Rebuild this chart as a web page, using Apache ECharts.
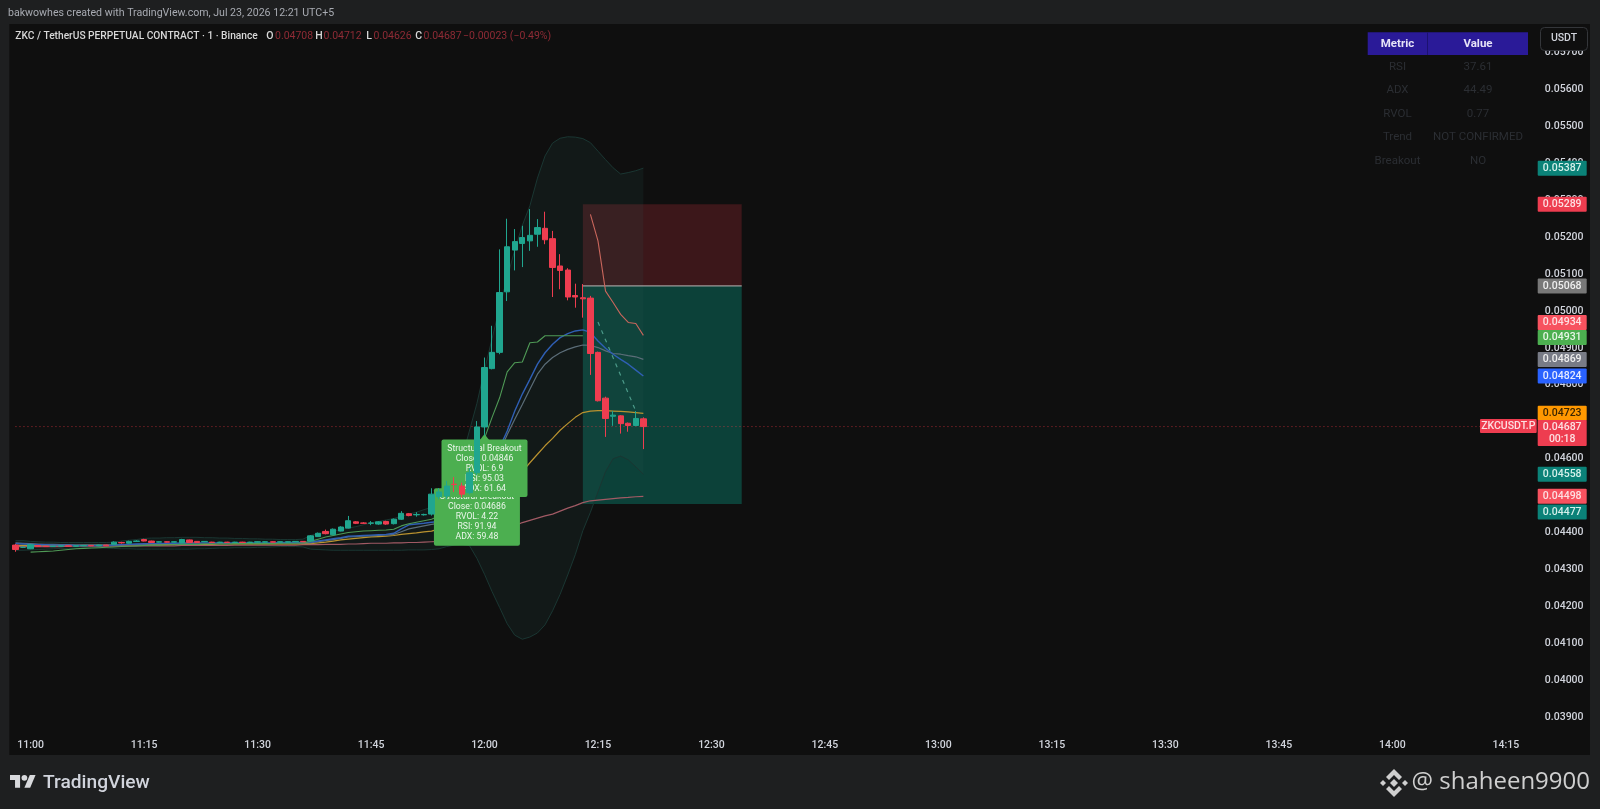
<!DOCTYPE html>
<html><head><meta charset="utf-8"><title>ZKCUSDT.P</title>
<style>html,body{margin:0;padding:0;background:#1e1f20;width:1600px;height:809px;overflow:hidden}#c{width:1600px;height:809px}</style>
<script src="https://cdn.jsdelivr.net/npm/echarts@6/dist/echarts.min.js"></script>
</head><body><div id="c"></div>
<script>
// ---- data: one value per minute, 10:58 ... 12:21 ----
const opens=[.04366,.04360,.04356,.04365,.04363,.04362,.04363,.04364,.04363,.04364,
.04365,.04364,.04366,.04368,.04373,.04371,.04376,.04381,.04377,.04374,
.04375,.04374,.04372,.04380,.04376,.04375,.04374,.04373,.04374,.04373,
.04374,.04373,.04374,.04374,.04375,.04374,.04374,.04375,.04376,.04377,
.04389,.04403,.04394,.04404,.04412,.04429,.04426,.04425,.04423,.04430,
.04424,.04436,.04451,.04448,.04448,.04450,.04497,.04499,.04531,.04526,
.04508,.04562,.04686,.04844,.04888,.05052,.05165,.05183,.05190,.05208,
.05224,.05196,.05122,.05111,.05042,.05036,.05035,.04888,.04764,.04715,
.04716,.04696,.04690,.04708];
const closes=[.04354,.04360,.04367,.04362,.04362,.04363,.04364,.04363,.04364,.04365,
.04364,.04366,.04364,.04374,.04372,.04376,.04377,.04377,.04373,.04375,
.04374,.04375,.04381,.04373,.04373,.04376,.04373,.04374,.04373,.04374,
.04373,.04374,.04375,.04375,.04374,.04375,.04375,.04376,.04375,.04391,
.04398,.04397,.04409,.04415,.04432,.04425,.04425,.04426,.04429,.04423,
.04436,.04452,.04446,.04449,.04449,.04504,.04510,.04526,.04530,.04504,
.04562,.04686,.04847,.04888,.05050,.05174,.05188,.05199,.05205,.05226,
.05193,.05118,.05110,.05038,.05038,.05033,.04885,.04757,.04709,.04718,
.04695,.04690,.04709,.04687];
const highs=[.04369,.04362,.04369,.04366,.04364,.04364,.04365,.04365,.04365,.04366,
.04366,.04367,.04367,.04376,.04375,.04378,.04379,.04383,.04378,.04376,
.04376,.04376,.04383,.04381,.04377,.04377,.04375,.04375,.04375,.04375,
.04375,.04375,.04376,.04376,.04376,.04376,.04376,.04377,.04377,.04393,
.04400,.04408,.04411,.04417,.04445,.04431,.04428,.04431,.04431,.04432,
.04438,.04458,.04453,.04455,.04451,.04520,.04520,.04540,.04550,.04535,
.04575,.04702,.04874,.04960,.05167,.05250,.05222,.05231,.05276,.05249,
.05269,.05217,.05154,.05116,.05074,.05073,.05041,.04890,.04768,.04729,
.04718,.04698,.04729,.04712];
const lows=[.04348,.04358,.04355,.04361,.04361,.04361,.04362,.04362,.04362,.04363,
.04363,.04363,.04363,.04367,.04370,.04370,.04375,.04376,.04372,.04373,
.04373,.04373,.04371,.04372,.04372,.04374,.04372,.04372,.04372,.04372,
.04372,.04372,.04373,.04373,.04373,.04373,.04373,.04374,.04374,.04376,
.04388,.04395,.04393,.04403,.04411,.04423,.04423,.04420,.04421,.04421,
.04422,.04434,.04444,.04443,.04446,.04446,.04490,.04490,.04510,.04495,
.04503,.04555,.04662,.04842,.04883,.05027,.05110,.05119,.05163,.05174,
.05181,.05038,.05059,.05029,.05009,.04982,.04827,.04755,.04659,.04689,
.04668,.04673,.04688,.04626];
const greenLine=[null,null,.04347,.04348,.04349,.04350,.04352,.04354,.04356,.04357,
.04358,.04359,.04360,.04361,.04362,.04363,.04364,.04365,.04366,.04366,
.04367,.04367,.04368,.04368,.04368,.04369,.04369,.04369,.04369,.04370,
.04370,.04370,.04370,.04370,.04370,.04371,.04371,.04371,.04372,.04376,
.04382,.04388,.04392,.04396,.04400,.04402,.04404,.04405,.04406,.04407,
.04409,.04418,.04424,.04428,.04432,.04436,.04445,.04450,.04465,.04490,
.04530,.04600,.04655,.04712,.04765,.04835,.04860,.04862,.04914,.04916,
.04933,.04933,.04933,.04933,.04933,.04933,null,null,null,null,
null,null,null,null];
const blueLine=[.04370,.04369,.04368,.04367,.04367,.04366,.04366,.04366,.04365,.04365,
.04365,.04365,.04365,.04366,.04367,.04368,.04369,.04370,.04370,.04370,
.04371,.04371,.04372,.04372,.04372,.04372,.04372,.04372,.04372,.04372,
.04372,.04372,.04372,.04372,.04372,.04373,.04373,.04373,.04373,.04374,
.04377,.04380,.04383,.04386,.04390,.04391,.04392,.04393,.04394,.04395,
.04398,.04410,.04421,.04423,.04425,.04428,.04430,.04435,.04442,.04455,
.04475,.04505,.04545,.04585,.04630,.04675,.04729,.04775,.04815,.04856,
.04887,.04910,.04928,.04939,.04946,.04949,.04942,.04919,.04899,.04883,
.04869,.04856,.04840,.04824];
const grayLine=[.04372,.04371,.04370,.04369,.04368,.04368,.04367,.04367,.04366,.04366,
.04366,.04366,.04366,.04366,.04367,.04367,.04368,.04368,.04369,.04369,
.04370,.04370,.04370,.04371,.04371,.04371,.04371,.04371,.04371,.04371,
.04371,.04371,.04371,.04371,.04371,.04372,.04372,.04372,.04372,.04372,
.04375,.04378,.04381,.04384,.04388,.04389,.04390,.04391,.04392,.04393,
.04395,.04402,.04410,.04414,.04418,.04422,.04425,.04430,.04436,.04447,
.04465,.04492,.04530,.04575,.04620,.04665,.04707,.04747,.04788,.04829,
.04856,.04874,.04887,.04896,.04903,.04908,.04907,.04901,.04892,.04885,
.04883,.04879,.04876,.04869];
const orangeLine=[.04365,.04365,.04365,.04365,.04365,.04365,.04365,.04365,.04365,.04366,
.04366,.04366,.04366,.04366,.04366,.04367,.04367,.04367,.04367,.04367,
.04367,.04368,.04368,.04368,.04368,.04368,.04368,.04369,.04369,.04369,
.04369,.04369,.04369,.04369,.04369,.04369,.04369,.04369,.04370,.04370,
.04372,.04374,.04377,.04380,.04382,.04384,.04386,.04388,.04389,.04390,
.04392,.04395,.04397,.04399,.04402,.04404,.04410,.04415,.04420,.04425,
.04430,.04445,.04460,.04480,.04500,.04520,.04545,.04565,.04589,.04612,
.04635,.04655,.04677,.04695,.04712,.04725,.04729,.04730,.04730,.04729,
.04728,.04727,.04725,.04723];
const mauveLine=[.04362,.04362,.04362,.04362,.04362,.04362,.04362,.04363,.04363,.04363,
.04363,.04363,.04363,.04363,.04363,.04364,.04364,.04364,.04364,.04364,
.04364,.04364,.04365,.04365,.04365,.04365,.04365,.04365,.04365,.04366,
.04366,.04366,.04366,.04366,.04366,.04366,.04366,.04366,.04367,.04367,
.04367,.04368,.04368,.04368,.04369,.04369,.04370,.04371,.04371,.04371,
.04372,.04372,.04373,.04373,.04374,.04375,.04376,.04377,.04378,.04380,
.04382,.04385,.04388,.04394,.04402,.04410,.04418,.04427,.04433,.04439,
.04445,.04450,.04458,.04466,.04473,.04481,.04486,.04488,.04490,.04492,
.04494,.04495,.04497,.04498];
const salmonTail=[.05262,.05190,.05054,.05023,.04991,.04969,.04966,.04934]; // 12:14 ... 12:21
const bandUpper=[.04378,.04378,.04376,.04375,.04374,.04374,.04373,.04373,.04373,.04373,
.04373,.04373,.04373,.04374,.04377,.04379,.04381,.04384,.04385,.04385,
.04386,.04386,.04387,.04387,.04387,.04386,.04386,.04385,.04385,.04384,
.04384,.04383,.04383,.04382,.04382,.04381,.04381,.04381,.04382,.04392,
.04397,.04400,.04404,.04408,.04412,.04416,.04421,.04426,.04430,.04434,
.04438,.04444,.04450,.04455,.04462,.04468,.04490,.04510,.04545,.04600,
.04675,.04750,.04840,.04925,.05010,.05090,.05165,.05232,.05285,.05360,
.05420,.05455,.05468,.05472,.05471,.05467,.05456,.05433,.05410,.05388,
.05371,.05375,.05380,.05387];
const bandLower=[.04352,.04352,.04353,.04354,.04355,.04356,.04357,.04357,.04358,.04358,
.04358,.04358,.04358,.04357,.04356,.04356,.04355,.04355,.04355,.04355,
.04355,.04355,.04355,.04355,.04356,.04356,.04357,.04358,.04358,.04359,
.04359,.04359,.04360,.04360,.04361,.04362,.04362,.04362,.04361,.04355,
.04354,.04353,.04352,.04352,.04352,.04352,.04352,.04352,.04352,.04352,
.04352,.04352,.04353,.04353,.04353,.04354,.04356,.04362,.04366,.04368,
.04365,.04330,.04287,.04240,.04197,.04153,.04122,.04111,.04117,.04128,
.04150,.04188,.04233,.04285,.04340,.04405,.04455,.04510,.04565,.04600,
.04607,.04597,.04578,.04558];
// short-position tool
const stopPrice=.05289, entryPrice=.05068, targetPrice=.04477;
const toolStart='12:13', toolEnd='12:34';
const dashFrom='12:15', dashTo='12:20', dashPrices=[.0497,.04729];
const lastPrice=.04687;
// price scale tags
const tagValues=[.05387,.05289,.05068,.04934,.04931,.04869,.04824,.04723,.04687,.04558,.04498,.04477];
// signal labels
const signalTimes=['11:59','12:00'];
const signalAnchors=[.04535,.04667];
const signalTexts=[
 ['Structural Breakout','Close: 0.04686','RVOL: 4.22','RSI: 91.94','ADX: 59.48'],
 ['Structural Breakout','Close: 0.04846','RVOL: 6.9','RSI: 95.03','ADX: 61.64']];
// metric table
const metricNames=['RSI','ADX','RVOL','Trend','Breakout'];
const metricValues=['37.61','44.49','0.77','NOT CONFIRMED','NO'];

// ---- layout / styling ----
const tagFills=['#0b8278','#ee3d50','#787878','#f7525f','#4caf50','#787b86','#2962ff','#ff9800','#ee3d50','#0b8278','#f7525f','#0b8278'];
const tagInks=['#d5f0ea','#fde0e2','#eeeeee','#fde0e2','#e6f5e6','#eeeeee','#e4eaff','#3a2500','#fde0e2','#d5f0ea','#fde0e2','#d5f0ea'];
const tagShift=[0,0,0,-13,1,0,0,0,1,0,0,8];
const FONT='Roboto, "Open Sans", sans-serif';
const PX_MIN=7.565, X1100=30.6, Y56=89.5, PX_UNIT=36920;
const firstMin=10*60+58, slots=202;
const fmt=m=>Math.floor(m/60)+':'+String(m%60).padStart(2,'0');
const categories=Array.from({length:slots},(_,i)=>fmt(firstMin+i));
const idx=t=>categories.indexOf(t);
const pMax=.0577,pMin=.038;
const gridLeft=X1100-2.5*PX_MIN, gridTop=Y56-(pMax-.056)*PX_UNIT, gridH=(pMax-pMin)*PX_UNIT;
const padN=n=>Array(n).fill(null);
const salmonLine=[...padN(opens.length-salmonTail.length),...salmonTail];
const dashLine=padN(opens.length);dashLine[idx(dashFrom)]=dashPrices[0];dashLine[idx(dashTo)]=dashPrices[1];
const entryLine=padN(slots);entryLine[idx(toolStart)]=entryPrice;entryLine[idx(toolEnd)]=entryPrice;
const lastLine=Array(slots).fill(lastPrice);
const candleData=opens.map((o,i)=>[o,closes[i],lows[i],highs[i]]);

const lineSeries=(data,color,width,extra)=>Object.assign({type:'line',data,symbol:'none',silent:true,z:3,
  lineStyle:{color,width},itemStyle:{color},connectNulls:false,animation:false},extra||{});

const boxes=[{a:entryPrice,b:stopPrice,fill:'rgba(242,54,69,.2)'},{a:targetPrice,b:entryPrice,fill:'rgba(8,153,129,.37)'}];

const txt=(text,x,y,fill,font,align)=>({type:'text',x,y,z:100,silent:true,style:{text,fill,font:font,align:align||'left',textAlign:align||'left',verticalAlign:'middle',textVerticalAlign:'middle'}});
const poly=(pts,fill,z)=>({type:'polygon',z:z||100,silent:true,shape:{points:pts},style:{fill}});
const shift=(pts,x,y,k)=>pts.map(p=>[x+p[0]*k,y+p[1]*k]);

const gfx=[
 {type:'rect',z:-10,silent:true,shape:{x:9.3,y:24,width:1580.7,height:731},style:{fill:'#0f0f0f'}},
 txt('bakwowhes created with TradingView.com, Jul 23, 2026 12:21 UTC+5',8,13,'#a8abb2','10.6px '+FONT),
 txt('ZKC / TetherUS PERPETUAL CONTRACT · 1 · Binance',15.3,36,'#d8d8d8','500 10.2px '+FONT),
 txt('O',266.3,36,'#d8d8d8','500 10.5px '+FONT),txt('0.04708',275,36,'#8f2b35','10.5px '+FONT),
 txt('H',315.3,36,'#d8d8d8','500 10.5px '+FONT),txt('0.04712',323.5,36,'#8f2b35','10.5px '+FONT),
 txt('L',366.3,36,'#d8d8d8','500 10.5px '+FONT),txt('0.04626',373.5,36,'#8f2b35','10.5px '+FONT),
 txt('C',415.3,36,'#d8d8d8','500 10.5px '+FONT),txt('0.04687',423.5,36,'#8f2b35','10.5px '+FONT),
 txt('−0.00023 (−0.49%)',463,36,'#8f2b35','10.5px '+FONT),
 // metric table
 {type:'rect',z:90,silent:true,shape:{x:1367.7,y:32.3,width:160.3,height:22.7},style:{fill:'#2a1a98'}},
 {type:'rect',z:91,silent:true,shape:{x:1427,y:32.3,width:1,height:22.7},style:{fill:'#1c1270'}},
 txt('Metric',1397.5,44,'#e6e3f7','bold 11.5px '+FONT,'center'),
 txt('Value',1478,44,'#e6e3f7','bold 11.5px '+FONT,'center'),
 ...metricNames.map((n,i)=>txt(n,1397.5,66.7+i*23.6,'#2b2e33','11.5px '+FONT,'center')),
 ...metricValues.map((n,i)=>txt(n,1478,66.7+i*23.6,'#2b2e33','11.5px '+FONT,'center')),
 // USDT button
 {type:'rect',z:90,silent:true,shape:{x:1540.5,y:27.5,width:47,height:23,r:4},style:{fill:'#0f0f0f',stroke:'#34363a',lineWidth:1}},
 txt('USDT',1564,38.5,'#d1d4dc','500 10.5px '+FONT,'center'),
 // TradingView brand
 poly(shift([[0,4],[14,4],[14,22],[7,22],[7,11],[0,11]],10,772,.72),'#d8d9dc'),
 poly(shift([[27.5,4],[35.5,4],[28,22],[20,22]],10,772,.72),'#d8d9dc'),
 {type:'circle',z:100,silent:true,shape:{cx:24.4,cy:777.8,r:2.9},style:{fill:'#d8d9dc'}},
 txt('TradingView',43,783,'#d1d4dc','500 19.2px '+FONT),
 // Binance mark
 poly(shift([[0,-14],[8,-6],[5,-3],[0,-8],[-5,-3],[-8,-6]],1394,783,1),'#cfcfcf'),
 poly(shift([[0,14],[8,6],[5,3],[0,8],[-5,3],[-8,6]],1394,783,1),'#cfcfcf'),
 poly(shift([[0,-4],[4,0],[0,4],[-4,0]],1394,783,1),'#cfcfcf'),
 poly(shift([[-11,-3],[-8,0],[-11,3],[-14,0]],1394,783,1),'#cfcfcf'),
 poly(shift([[11,-3],[8,0],[11,3],[14,0]],1394,783,1),'#cfcfcf'),
 txt('@ shaheen9900',1590,782,'#cfcfcf','24px "Open Sans", sans-serif','right'),
];

const option={
 animation:false,backgroundColor:'#1e1f20',
 grid:{left:gridLeft,width:slots*PX_MIN,top:gridTop,height:gridH,containLabel:false,show:false},
 xAxis:{type:'category',data:categories,boundaryGap:true,axisLine:{show:false},axisTick:{show:false},splitLine:{show:false},
  axisLabel:{inside:true,margin:3,interval:(i,v)=>{const m=+v.split(':')[1];return m%15===0},color:'#d1d4dc',fontFamily:FONT,fontSize:10.5,fontWeight:500,hideOverlap:false}},
 yAxis:{type:'value',position:'right',min:pMin,max:pMax,interval:.001,scale:true,axisLine:{show:false},axisTick:{show:false},splitLine:{show:false},
  axisLabel:{margin:5,color:'#d1d4dc',fontFamily:FONT,fontSize:10.5,fontWeight:500,
   formatter:v=>(v<.0385||v>.0572)?'':v.toFixed(5)}},
 graphic:{elements:gfx},
 series:[
  {type:'custom',z:1,silent:true,clip:false,data:boxes.map((b,i)=>[i,b.a]),renderItem:(p,api)=>{
    const b=boxes[p.dataIndex],s=idx(toolStart),e=idx(toolEnd);
    const a=api.coord([s,b.b]),c=api.coord([e,b.a]);
    return {type:'rect',shape:{x:a[0],y:a[1],width:c[0]-a[0],height:c[1]-a[1]},style:{fill:b.fill}};
  }},
  {type:'custom',z:2,silent:true,clip:false,data:[[0,bandLower[0]]],renderItem:(p,api)=>{
    const pts=[];
    bandUpper.forEach((v,i)=>pts.push(api.coord([i,v])));
    for(let i=bandLower.length-1;i>=0;i--)pts.push(api.coord([i,bandLower[i]]));
    return {type:'polygon',shape:{points:pts},style:{fill:'rgba(38,90,82,.15)'}};
  }},
  lineSeries(bandUpper,'#1a3632',1),
  lineSeries(bandLower,'#1a3632',1),
  lineSeries(lastLine,'rgba(242,54,69,.65)',1,{lineStyle:{color:'rgba(242,54,69,.65)',width:1,type:[1,3]}}),
  lineSeries(entryLine,'#b9b9b9',1,{connectNulls:true}),
  lineSeries(dashLine,'#5fb7a3',1.2,{connectNulls:true,lineStyle:{color:'rgba(95,183,163,.75)',width:1.2,type:[4,5]}}),
  lineSeries(mauveLine,'#a15a64',1.2),
  lineSeries(orangeLine,'#b9922f',1.2),
  lineSeries(grayLine,'#5b6d78',1.2),
  lineSeries(blueLine,'#2f5fb4',1.4),
  lineSeries(greenLine,'#4f9a56',1.1),
  lineSeries(salmonLine,'#c9665c',1.1),
  {type:'custom',z:4,silent:true,clip:false,data:signalTimes.map((t,i)=>[idx(t),signalAnchors[i]]),renderItem:(p,api)=>{
    const c=api.coord([api.value(0),api.value(1)]);
    const w=86,h=57.5,tip=5.5,x=c[0]-w/2,y=c[1]+tip;
    const kids=[
     {type:'polygon',shape:{points:[[c[0],c[1]],[c[0]+5,y+1],[c[0]-5,y+1]]},style:{fill:'#4caf50'}},
     {type:'rect',shape:{x,y,width:w,height:h,r:2},style:{fill:'#4caf50'}}];
    signalTexts[p.dataIndex].forEach((s,k)=>kids.push({type:'text',x:c[0],y:y+9+k*10,style:{text:s,fill:'#eaf6ea',font:'8.7px '+FONT,align:'center',textAlign:'center',verticalAlign:'middle',textVerticalAlign:'middle'}}));
    return {type:'group',children:kids};
  }},
  {type:'candlestick',z:5,silent:true,barWidth:5.8,data:candleData,
   itemStyle:{color:'#20a68f',color0:'#ee3d50',borderColor:'#20a68f',borderColor0:'#ee3d50',borderWidth:1}},
  {type:'custom',z:50,silent:true,clip:false,data:tagValues.map((v,i)=>[0,v]),renderItem:(p,api)=>{
    const i=p.dataIndex,v=tagValues[i],y=api.coord([0,v])[1]+tagShift[i],x=1537.7,w=49;
    const isLast=v===lastPrice;
    const h=isLast?26:15, top=y-7.5;
    const font='500 10.5px '+FONT;
    const T=(s,yy,ink,xx,al)=>({type:'text',x:xx===undefined?x+w/2:xx,y:yy,style:{text:s,fill:ink,font,align:al||'center',textAlign:al||'center',verticalAlign:'middle',textVerticalAlign:'middle'}});
    const kids=[{type:'rect',shape:{x,y:top,width:w,height:h,r:1},style:{fill:tagFills[i]}},T(v.toFixed(5),y,tagInks[i])];
    if(isLast){
      kids.push(T('00:18',y+12,tagInks[i]));
      kids.push({type:'rect',shape:{x:1480,y:top-1,width:56.7,height:14,r:1},style:{fill:'#ee3d50'}});
      kids.push(T('ZKCUSDT.P',top+6,'#fde0e2',1508.3));
    }
    return {type:'group',children:kids};
  }}
 ]
};
const chart=echarts.init(document.getElementById('c'),null,{renderer:'canvas',width:1600,height:809});
chart.setOption(option);
</script></body></html>
